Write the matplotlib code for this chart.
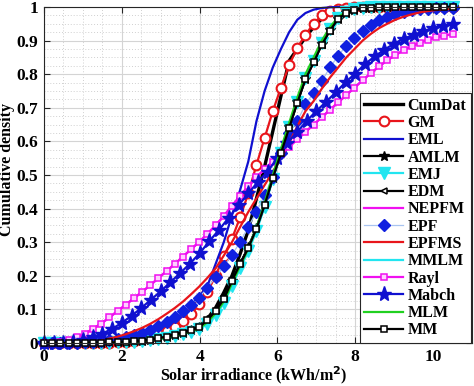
import numpy as np
import matplotlib
matplotlib.use("Agg")
import matplotlib.pyplot as plt
from matplotlib.ticker import MultipleLocator

plt.rcParams['font.family'] = ['Liberation Serif', 'DejaVu Serif']
plt.rcParams['font.weight'] = 'bold'
plt.rcParams['mathtext.default'] = 'bf'

# common x grid (kWh/m^2)
x = np.round(np.arange(51) * 0.21, 2)
x_mabch = np.round(np.arange(43) * 0.25, 2)

CumDat = [0, 0, 0, 0, 0, 0, 0.001, 0.001, 0.002, 0.002,
          0.003, 0.005, 0.007, 0.010, 0.014, 0.019, 0.025, 0.032, 0.040, 0.050,
          0.072, 0.105, 0.150, 0.200, 0.265, 0.335, 0.430, 0.525, 0.630, 0.735,
          0.840, 0.875, 0.910, 0.940, 0.965, 0.982, 0.992, 0.997, 0.999, 1,
          1, 1, 1, 1, 1, 1, 1, 1, 1, 1, 1]
GM = [0, 0, 0, 0, 0, 0, 0, 0, 0.001, 0.002,
      0.004, 0.007, 0.012, 0.018, 0.026, 0.036, 0.048, 0.065, 0.085, 0.115,
      0.152, 0.200, 0.258, 0.310, 0.374, 0.445, 0.530, 0.610, 0.690, 0.760,
      0.827, 0.878, 0.918, 0.950, 0.975, 0.987, 0.994, 0.998, 0.999, 1,
      1, 1, 1, 1, 1, 1, 1, 1, 1, 1, 1]
EML = [0, 0, 0, 0, 0, 0, 0, 0.001, 0.003, 0.006,
       0.010, 0.016, 0.023, 0.032, 0.043, 0.056, 0.072, 0.090, 0.112, 0.138,
       0.170, 0.235, 0.300, 0.380, 0.455, 0.540, 0.660, 0.750, 0.820, 0.875,
       0.925, 0.962, 0.982, 0.992, 0.997, 0.999, 1, 1, 1, 1,
       1, 1, 1, 1, 1, 1, 1, 1, 1, 1, 1]
AMLM = [0, 0, 0, 0, 0, 0.001, 0.001, 0.001, 0.002, 0.002,
        0.003, 0.005, 0.007, 0.010, 0.014, 0.019, 0.025, 0.031, 0.038, 0.048,
        0.069, 0.096, 0.132, 0.184, 0.236, 0.285, 0.343, 0.413, 0.492, 0.568,
        0.643, 0.718, 0.787, 0.838, 0.890, 0.932, 0.965, 0.982, 0.992, 0.996,
        0.998, 0.999, 1, 1, 1, 1, 1, 1, 1, 1, 1]
EMJ = [0, 0, 0, 0, 0, 0, 0, 0.001, 0.001, 0.002,
       0.002, 0.003, 0.005, 0.008, 0.011, 0.015, 0.020, 0.026, 0.033, 0.041,
       0.058, 0.084, 0.118, 0.170, 0.222, 0.273, 0.333, 0.405, 0.487, 0.565,
       0.642, 0.718, 0.788, 0.840, 0.892, 0.934, 0.967, 0.984, 0.993, 0.997,
       0.999, 1, 1, 1, 1, 1, 1, 1, 1, 1, 1]
EDM = [0, 0, 0, 0, 0, 0.001, 0.001, 0.001, 0.002, 0.002,
       0.003, 0.005, 0.007, 0.010, 0.014, 0.019, 0.025, 0.031, 0.038, 0.047,
       0.068, 0.095, 0.131, 0.185, 0.235, 0.284, 0.341, 0.411, 0.490, 0.566,
       0.641, 0.716, 0.786, 0.836, 0.889, 0.931, 0.965, 0.982, 0.992, 0.996,
       0.998, 0.999, 1, 1, 1, 1, 1, 1, 1, 1, 1]
NEPFM = [0, 0.001, 0.003, 0.008, 0.017, 0.028, 0.042, 0.058, 0.076, 0.095,
         0.114, 0.133, 0.152, 0.172, 0.193, 0.214, 0.235, 0.257, 0.279, 0.301,
         0.325, 0.350, 0.378, 0.408, 0.437, 0.466, 0.493, 0.518, 0.540, 0.562,
         0.584, 0.606, 0.628, 0.650, 0.672, 0.694, 0.716, 0.738, 0.760, 0.782,
         0.803, 0.823, 0.841, 0.857, 0.871, 0.883, 0.894, 0.903, 0.910, 0.915, 0.919]
EPF = [0, 0, 0, 0.001, 0.001, 0.002, 0.004, 0.006, 0.009, 0.013,
       0.018, 0.024, 0.031, 0.040, 0.050, 0.062, 0.077, 0.094, 0.112, 0.135,
       0.165, 0.195, 0.228, 0.262, 0.300, 0.345, 0.390, 0.440, 0.495, 0.565,
       0.625, 0.660, 0.710, 0.745, 0.780, 0.820, 0.855, 0.885, 0.908, 0.930,
       0.946, 0.960, 0.971, 0.980, 0.986, 0.990, 0.993, 0.995, 0.997, 0.998, 0.998]
EPFMS = [0, 0, 0, 0.001, 0.002, 0.003, 0.005, 0.008, 0.013, 0.019,
         0.026, 0.035, 0.045, 0.057, 0.071, 0.087, 0.104, 0.123, 0.145, 0.168,
         0.194, 0.222, 0.260, 0.300, 0.345, 0.390, 0.430, 0.470, 0.510, 0.550,
         0.595, 0.645, 0.690, 0.720, 0.757, 0.790, 0.820, 0.850, 0.875, 0.900,
         0.920, 0.937, 0.950, 0.962, 0.971, 0.978, 0.984, 0.988, 0.991, 0.993, 0.995]
MMLM = [0, 0, 0, 0, 0, 0.001, 0.001, 0.001, 0.002, 0.002,
        0.003, 0.004, 0.006, 0.009, 0.013, 0.017, 0.023, 0.029, 0.036, 0.045,
        0.065, 0.091, 0.126, 0.180, 0.231, 0.281, 0.340, 0.412, 0.492, 0.569,
        0.645, 0.720, 0.790, 0.841, 0.893, 0.934, 0.967, 0.984, 0.993, 0.997,
        0.999, 1, 1, 1, 1, 1, 1, 1, 1, 1, 1]
Rayl = [0, 0.001, 0.003, 0.008, 0.017, 0.028, 0.042, 0.058, 0.076, 0.095,
        0.114, 0.133, 0.152, 0.172, 0.193, 0.214, 0.235, 0.257, 0.279, 0.301,
        0.325, 0.350, 0.378, 0.408, 0.437, 0.466, 0.493, 0.518, 0.540, 0.562,
        0.584, 0.606, 0.628, 0.650, 0.672, 0.694, 0.716, 0.738, 0.760, 0.782,
        0.803, 0.823, 0.841, 0.857, 0.871, 0.883, 0.894, 0.903, 0.910, 0.915, 0.919]
Mabch = [0, 0, 0.001, 0.004, 0.010, 0.018, 0.028, 0.042, 0.060, 0.081,
         0.104, 0.129, 0.154, 0.181, 0.208, 0.236, 0.267, 0.303, 0.337, 0.373,
         0.410, 0.445, 0.480, 0.510, 0.552, 0.595, 0.627, 0.661, 0.690, 0.718,
         0.746, 0.776, 0.802, 0.830, 0.853, 0.873, 0.891, 0.906, 0.917, 0.928,
         0.937, 0.944, 0.950]
MLM = [0, 0, 0, 0, 0, 0, 0.001, 0.001, 0.001, 0.002,
       0.002, 0.003, 0.005, 0.008, 0.012, 0.016, 0.021, 0.027, 0.034, 0.043,
       0.062, 0.088, 0.123, 0.177, 0.229, 0.281, 0.343, 0.418, 0.500, 0.578,
       0.655, 0.730, 0.800, 0.850, 0.900, 0.940, 0.970, 0.986, 0.994, 0.998,
       0.999, 1, 1, 1, 1, 1, 1, 1, 1, 1, 1]
MM = [0, 0, 0, 0, 0, 0.001, 0.001, 0.001, 0.002, 0.002,
      0.003, 0.005, 0.007, 0.010, 0.014, 0.019, 0.025, 0.031, 0.038, 0.047,
      0.068, 0.095, 0.130, 0.185, 0.235, 0.283, 0.340, 0.410, 0.490, 0.565,
      0.640, 0.715, 0.785, 0.835, 0.888, 0.930, 0.965, 0.982, 0.992, 0.996,
      0.998, 0.999, 1, 1, 1, 1, 1, 1, 1, 1, 1]

ytick_labels = ['0', '0.1', '0.2', '0.3', '0.4', '0.5', '0.6', '0.7', '0.8', '0.9', '1']

fig = plt.figure(figsize=(4.74, 3.86), dpi=100)
ax = fig.add_axes([0.0928, 0.1114, 0.9030, 0.8705])

kw = dict(clip_on=False)
LW = 1.6
ax.plot(x, CumDat, color='black', lw=2.4, label='CumDat', **kw)
ax.plot(x, GM, color='#e8151b', lw=LW, marker='o', ms=7, mfc='white', mec='#e8151b', mew=1.5, label='GM', **kw)
ax.plot(x, EML, color='#1010d0', lw=LW, label='EML', **kw)
ax.plot(x, AMLM, color='black', lw=LW, marker='*', ms=7, label='AMLM', **kw)
ax.plot(x, EMJ, color='#22e5f0', lw=LW, marker='v', ms=8.5, mfc='#22e5f0', mec='#22e5f0', label='EMJ', **kw)
ax.plot(x, EDM, color='black', lw=LW, marker='<', ms=5, mfc='white', mec='black', mew=1.1, label='EDM', **kw)
ax.plot(x, NEPFM, color='#f010f0', lw=LW, label='NEPFM', **kw)
ax.plot(x, EPF, color='#a8c4f0', lw=0.9, marker='D', ms=6.5, mfc='#1020e0', mec='#1020e0', label='EPF', **kw)
ax.plot(x, EPFMS, color='#e8151b', lw=LW, label='EPFMS', **kw)
ax.plot(x, MMLM, color='#22e5f0', lw=LW, label='MMLM', **kw)
ax.plot(x, Rayl, color='#f010f0', lw=LW, marker='s', ms=4, mfc='#ffd0ff', mec='#f010f0', mew=1.1, label='Rayl', **kw)
ax.plot(x_mabch, Mabch, color='#1010d0', lw=LW, marker='*', ms=11, mfc='#1010d0', mec='#1010d0', label='Mabch', **kw)
ax.plot(x, MLM, color='#20d020', lw=LW, label='MLM', **kw)
ax.plot(x, MM, color='black', lw=LW, marker='s', ms=4.5, mfc='white', mec='black', mew=1.1, label='MM', **kw)

ax.set_xlim(0, 11)
ax.set_ylim(0, 1)
ax.xaxis.set_major_locator(MultipleLocator(2))
ax.xaxis.set_minor_locator(MultipleLocator(0.5))
ax.set_yticks(np.round(np.arange(0, 1.01, 0.1), 1))
ax.set_yticklabels(ytick_labels)
ax.yaxis.set_minor_locator(MultipleLocator(0.025))

ax.grid(which='major', color='#d4d4d4', lw=0.8, ls='-')
ax.grid(which='minor', color='#d0d0d0', lw=0.7, ls=(0, (1, 2)))
ax.set_axisbelow(True)
ax.tick_params(which='major', direction='in', length=4, top=True, right=True,
               labelsize=12.5, color='#262626', pad=4)
ax.tick_params(which='minor', length=0)
for s in ax.spines.values():
    s.set_color('#262626')
    s.set_linewidth(0.8)
for lab in ax.get_xticklabels() + ax.get_yticklabels():
    lab.set_fontweight('bold')

ax.set_xlabel('Solar irradiance (kWh/m$^{\\mathbf{2}}$)', fontsize=11.5, fontweight='bold')
ax.set_ylabel('Cumulative density', fontsize=11.5, fontweight='bold')
ax.xaxis.set_label_coords(0.49, -0.062)
ax.yaxis.set_label_coords(-0.068, 0.515)

leg = ax.legend(loc='upper right', bbox_to_anchor=(0.998, 0.744), borderaxespad=0,
                labelspacing=0.08, handlelength=2.4, handletextpad=0.3,
                borderpad=0.3, fancybox=False, framealpha=1, edgecolor='#262626',
                prop={'weight': 'bold', 'size': 11.5})
leg.get_frame().set_linewidth(0.8)

fig.savefig('out.png', dpi=100)
